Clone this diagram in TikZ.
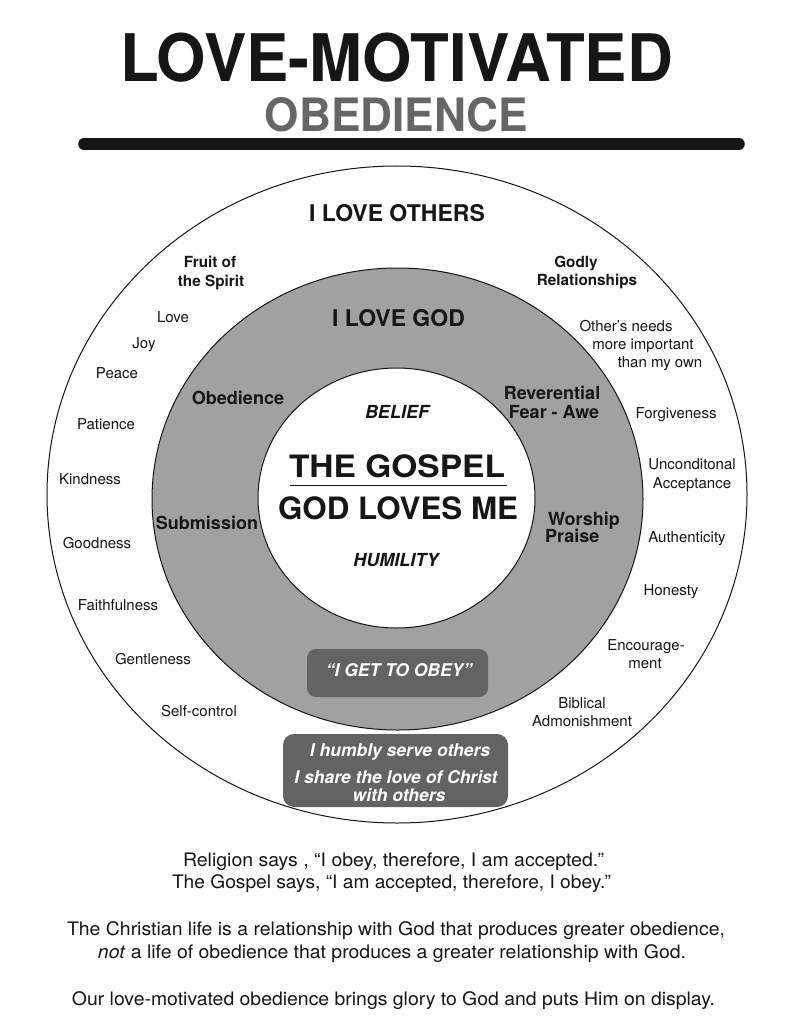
\documentclass[tikz,border=0pt]{standalone}
\usepackage{fontspec}
\setmainfont{TeX Gyre Heros}
\usepackage{graphicx}
\definecolor{ringgray}{RGB}{161,161,161}
\definecolor{boxgray}{RGB}{99,99,99}
\definecolor{titlegray}{RGB}{102,102,102}
\definecolor{inkblack}{RGB}{22,22,22}
\newcommand\fitw[2]{\resizebox{#1pt}{\height}{#2}}
\begin{document}
\begin{tikzpicture}[x=1pt,y=-1pt,
  every node/.style={inner sep=0pt, text=inkblack},
  lbl/.style={font=\fontsize{15}{18}\selectfont, text height=10.8pt, text depth=0pt},
  blbl/.style={font=\fontsize{15.3}{18}\selectfont\bfseries, text height=11pt, text depth=0pt},
  ringlbl/.style={font=\fontsize{18}{20}\selectfont\bfseries, text height=12.9pt, text depth=0pt},
  bigl/.style={font=\fontsize{23}{26}\selectfont\bfseries, text height=16.5pt, text depth=0pt},
  ital/.style={font=\fontsize{18}{20}\selectfont\bfseries\itshape, text height=12.9pt, text depth=0pt},
  wital/.style={font=\fontsize{17.5}{20}\selectfont\bfseries\itshape, text=white, text height=12.6pt, text depth=0pt},
  body/.style={font=\fontsize{18.6}{22}\selectfont, text height=13.3pt, text depth=0pt},
  gospel/.style={font=\fontsize{30.8}{34}\selectfont\bfseries, text height=22.2pt, text depth=0pt},
  darkbox/.style={fill=boxgray, rounded corners=9pt},
  ringline/.style={draw=inkblack, line width=1pt},
]
\useasboundingbox[fill=white] (0,0) rectangle (792,1024);

% title
\node[text height=47pt, text depth=0pt] (title) at (396.5,58.5)
  {\fitw{553}{\fontsize{65.6}{70}\selectfont\bfseries LOVE-MOTIVATED}};
\node[text height=33pt, text depth=0pt, text=titlegray] (subtitle) at (396.5,115.5)
  {\fitw{263}{\fontsize{46}{50}\selectfont\bfseries OBEDIENCE}};
\coordinate (ruleL) at (84,144);
\coordinate (ruleR) at (739,144);
\draw[line width=11.5pt, line cap=round, draw=inkblack!95!black] (ruleL) -- (ruleR);

% rings
\draw[ringline, fill=white] (397,494.5) ellipse [x radius=350, y radius=328.5];
\draw[ringline, fill=ringgray] (397.5,499) ellipse [x radius=245.5, y radius=231];
\draw[ringline, fill=white] (396.5,498) ellipse [x radius=138.5, y radius=130];

% outer ring labels
\node[bigl] (others) at (397,213) {I LOVE OTHERS};
\node[blbl] (fruitA) at (210,262) {Fruit of};
\node[blbl] (fruitB) at (211,281) {the Spirit};
\node[blbl] (godlyA) at (576,262) {Godly};
\node[blbl] (godlyB) at (587,280) {Relationships};

\node[lbl] (love) at (173,317) {Love};
\node[lbl] (joy) at (144,343) {Joy};
\node[lbl] (peace) at (117,373) {Peace};
\node[lbl] (patience) at (106,424) {Patience};
\node[lbl] (kindness) at (90,479) {Kindness};
\node[lbl] (goodness) at (97,543) {Goodness};
\node[lbl] (faith) at (118,605) {Faithfulness};
\node[lbl] (gentle) at (153,659) {Gentleness};
\node[lbl] (selfc) at (199,711) {Self-control};

\node[lbl] (needsA) at (626,326) {Other’s needs};
\node[lbl] (needsB) at (643,344) {more important};
\node[lbl] (needsC) at (660,362) {than my own};
\node[lbl] (forgive) at (676,413) {Forgiveness};
\node[lbl] (uncondA) at (692,464) {Unconditonal};
\node[lbl] (uncondB) at (692,483) {Acceptance};
\node[lbl] (authentic) at (687,537) {Authenticity};
\node[lbl] (honesty) at (671,590) {Honesty};
\node[lbl] (encA) at (646,645) {Encourage-};
\node[lbl] (encB) at (645,663) {ment};
\node[lbl] (biblA) at (582,703) {Biblical};
\node[lbl] (biblB) at (582,721) {Admonishment};

% gray ring labels
\node[bigl] (lovegod) at (398.5,318) {I LOVE GOD};
\node[ringlbl] (obed) at (238,398) {Obedience};
\node[ringlbl] (subm) at (207,523) {Submission};
\node[ringlbl] (revA) at (552,393) {Reverential};
\node[ringlbl] (revB) at (554,412) {Fear - Awe};
\node[ringlbl, anchor=west] (worA) at (548,519) {Worship};
\node[ringlbl, anchor=west] (worB) at (545,536) {Praise};

% center
\node[ital] (belief) at (397,412) {BELIEF};
\node[ital] (humil) at (396,560) {HUMILITY};
\node[gospel] (gospelA) at (397,466) {\fitw{216}{THE GOSPEL}};
\node[gospel] (gospelB) at (398,508) {\fitw{240}{GOD LOVES ME}};
\coordinate (ulL) at (290,485.5);
\coordinate (ulR) at (507,485.5);
\draw[line width=1.3pt, draw=inkblack] (ulL) -- (ulR);

% dark boxes
\node[darkbox, minimum width=181pt, minimum height=48pt] (obeybox) at (397.5,673) {};
\node[wital] (obeytxt) at (399,670) {“I GET TO OBEY”};
\node[darkbox, minimum width=225pt, minimum height=73pt, rounded corners=11pt] (servebox) at (395.5,770.5) {};
\node[wital] (serveA) at (400,750) {I humbly serve others};
\node[wital] (serveB) at (396,777) {I share the love of Christ};
\node[wital] (serveC) at (399,795) {with others};

% bottom text
\node[body] (bA) at (393.5,860) {\fitw{421}{Religion says , “I obey, therefore, I am accepted.”}};
\node[body] (bB) at (391.5,882) {\fitw{439}{The Gospel says, “I am accepted, therefore, I obey.”}};
\node[body] (bC) at (396,929) {\fitw{658}{The Christian life is a relationship with God that produces greater obedience,}};
\node[body] (bD) at (392,952) {\fitw{588}{\textit{not} a life of obedience that produces a greater relationship with God.}};
\node[body] (bE) at (393.5,999) {\fitw{643}{Our love-motivated obedience brings glory to God and puts Him on display.}};
\end{tikzpicture}
\end{document}
